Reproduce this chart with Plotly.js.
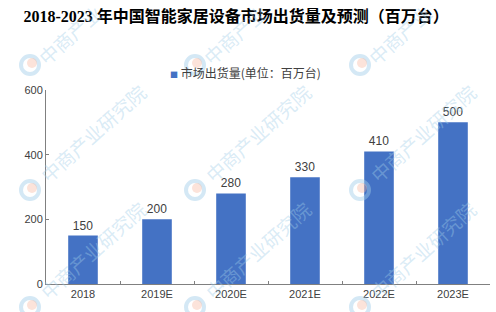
<!DOCTYPE html>
<html><head><meta charset="utf-8">
<script src="https://cdn.plot.ly/plotly-3.0.1.min.js"></script>
<style>html,body{margin:0;padding:0;background:#fff}#c{width:496px;height:312px}</style>
</head><body><div id="c"></div>
<script>
const categories = ["2018", "2019E", "2020E", "2021E", "2022E", "2023E"];
const shipments = [150, 200, 280, 330, 410, 500];
const seriesName = "市场出货量(单位：百万台)";
const yTicks = [0, 200, 400, 600];
const watermarkText = "中商产业研究院";
const watermarkTopText = "中商产业";

const W = 496, H = 312, ML = 46, MR = 6, MT = 90, MB = 28;
const pw = W - ML - MR, ph = H - MT - MB;
const px = x => (x - ML) / pw, py = y => (H - MB - y) / ph;

const annotations = [];
const shapes = [];
const wmFont = {family: "'Noto Sans CJK SC', sans-serif", size: 19, color: "rgba(160,205,232,0.4)"};
[30, 195, 360].forEach(lx => {
  [65, 190, 307].forEach(ly => {
    const top = ly < 100;
    annotations.push({xref: "paper", yref: "paper",
      x: top ? px(lx + 40) : px(lx + 62), y: top ? py(ly - 30) : py(ly - 57),
      xanchor: "center", yanchor: "middle",
      text: top ? watermarkTopText : watermarkText, showarrow: false, textangle: -42,
      font: wmFont});
    shapes.push({type: "circle", xref: "paper", yref: "paper", layer: "above",
      x0: px(lx - 9), x1: px(lx + 9), y0: py(ly + 9), y1: py(ly - 9),
      line: {color: "rgba(160,205,232,0.45)", width: 4}});
    shapes.push({type: "circle", xref: "paper", yref: "paper", layer: "above",
      x0: px(lx - 3), x1: px(lx + 7), y0: py(ly + 3), y1: py(ly - 7),
      line: {width: 0}, fillcolor: "rgba(245,175,150,0.35)"});
  });
});
// legend drawn as a text annotation
annotations.push({xref: "paper", yref: "paper", x: px(168), y: py(72), xanchor: "left", yanchor: "middle",
  text: '<span style="color:#4472C4;font-size:8px">■</span> ' + seriesName, showarrow: false,
  font: {family: "'Noto Sans CJK SC', sans-serif", size: 12, color: "#404040"}});

const trace = {
  type: "bar", x: categories, y: shipments, name: seriesName,
  marker: {color: "#4472C4"}, width: 0.4,
  text: shipments.map(String), textposition: "outside",
  textfont: {family: "Liberation Sans, Arial, sans-serif", size: 12, color: "#404040"},
  cliponaxis: false, showlegend: false
};
const layout = {
  width: W, height: H,
  margin: {l: ML, r: MR, t: MT, b: MB},
  paper_bgcolor: "#fff", plot_bgcolor: "#fff",
  title: {text: "<b>2018-2023 年中国智能家居设备市场出货量及预测（百万台）</b>",
    font: {family: "Liberation Serif, 'Noto Sans CJK SC', serif", size: 16, color: "#000"},
    x: 0.476, xanchor: "center", y: 1 - 16 / H, yanchor: "middle"},
  showlegend: false,
  annotations: annotations, shapes: shapes,
  xaxis: {type: "category", showline: true, linecolor: "#808080", linewidth: 1,
    ticks: "inside", ticklen: 3, tickcolor: "#808080", tickson: "boundaries",
    showgrid: false, tickfont: {family: "Liberation Sans, Arial, sans-serif", size: 11, color: "#404040"}},
  yaxis: {range: [0, 600], tickvals: yTicks, showline: true, linecolor: "#808080", linewidth: 1,
    ticks: "inside", ticklen: 3, tickcolor: "#808080", showgrid: false, zeroline: false,
    tickfont: {family: "Liberation Sans, Arial, sans-serif", size: 11, color: "#404040"}},
  bargap: 0.6
};
Plotly.newPlot("c", [trace], layout, {displayModeBar: false, staticPlot: true});
</script></body></html>
